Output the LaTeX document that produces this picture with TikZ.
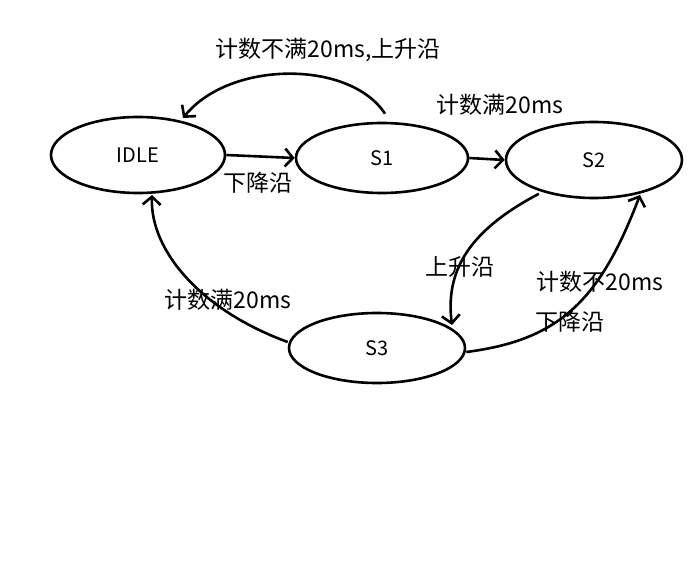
\documentclass[tikz,border=0pt]{standalone}
\usepackage{fontspec}
\setmainfont{Noto Sans CJK SC}
\usetikzlibrary{arrows.meta,shapes.geometric}
\begin{document}
\begin{tikzpicture}[x=1pt,y=-1pt,
  st/.style={draw,line width=2.6pt,ellipse,minimum width=#1,font=\fontsize{20}{22}\selectfont},
  ar/.style={line width=2.6pt,-{Straight Barb[length=8pt,width=18pt]}},
  lb/.style={font=\fontsize{23}{25}\selectfont}]
\useasboundingbox[fill=white] (0,0) rectangle (696,564);
\node[st=174pt,minimum height=76pt] (idle) at (138,155) {IDLE};
\node[st=172pt,minimum height=70pt] (s1) at (382,158) {S1};
\node[st=176pt,minimum height=76pt] (s2) at (594,160) {S2};
\node[st=176pt,minimum height=70pt] (s3) at (377,348) {S3};
\draw[ar] (idle.east) -- (s1.west);
\draw[ar] (s1.east) -- (s2.west);
\draw[ar] (s1.north) ++(3,-8) coordinate (a) .. controls (350,60) and (230,60) .. (183,118);
\draw[ar] (s2.south west) ++(8,6) .. controls (470,230) and (445,270) .. (452,325);
\draw[ar] (s3.east) ++(0,4) .. controls (560,340) and (600,300) .. (640,195);
\draw[ar] (s3.west) ++(0,-6) .. controls (200,310) and (150,250) .. (152,195);
\node[lb] (l1) at (328,50) {计数不满20ms,上升沿};
\node[lb] (l2) at (500,105) {计数满20ms};
\node[lb] (l3) at (258,183) {下降沿};
\node[lb] (l4) at (460,267) {上升沿};
\node[lb] (l5) at (600,282) {计数不20ms};
\node[lb] (l6) at (570,322) {下降沿};
\node[lb] (l7) at (228,300) {计数满20ms};
\end{tikzpicture}
\end{document}
